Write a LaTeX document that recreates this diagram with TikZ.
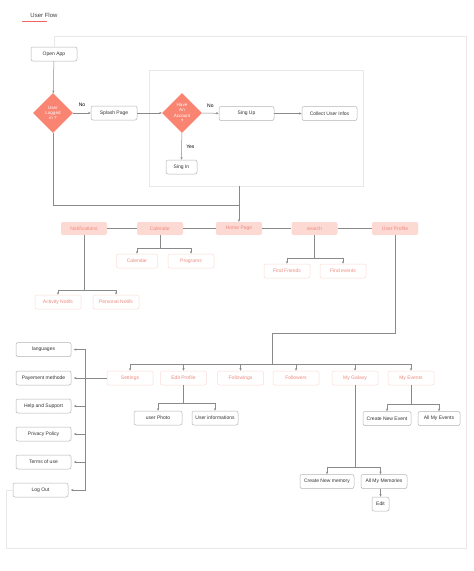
\documentclass[tikz,border=0pt]{standalone}
\usepackage{fontspec}
\setmainfont{Liberation Sans}
\usetikzlibrary{arrows.meta,shapes.geometric}

\definecolor{salmon}{HTML}{F98472}
\definecolor{pinkfill}{HTML}{FDD9D3}
\definecolor{pinktext}{HTML}{EE8A7E}
\definecolor{pinkline}{HTML}{FBDCD6}
\definecolor{boxline}{HTML}{B5B5B5}
\definecolor{wirecol}{HTML}{8A8A8A}
\definecolor{framegray}{HTML}{E8E8E8}
\definecolor{titlered}{HTML}{F06464}

\tikzset{
  plainbox/.style={draw=boxline, line width=0.5pt, rounded corners=2pt, fill=white,
    minimum height=14pt, minimum width=46pt, inner sep=1pt, text=black!80},
  pinkbox/.style={fill=pinkfill, rounded corners=2pt, minimum height=13pt,
    minimum width=46pt, inner sep=1pt, text=pinktext},
  pinkedge/.style={draw=pinkline, line width=0.5pt, fill=white, rounded corners=2pt,
    minimum height=14pt, minimum width=46pt, inner sep=1pt, text=pinktext},
  choice/.style={diamond, fill=salmon, text=white, aspect=1, minimum size=40pt,
    inner sep=0pt, align=center, font=\fontsize{4.5}{5.2}\selectfont},
  wire/.style={draw=wirecol, line width=0.5pt},
  arr/.style={wire, -{Stealth[length=2.6pt,width=2.2pt]}},
  framebox/.style={draw=framegray, line width=0.6pt},
}

\begin{document}
\begin{tikzpicture}[x=1pt, y=-1pt, font=\fontsize{5}{6}\selectfont]

  \useasboundingbox[fill=white] (0,0) rectangle (474,571);

  % Judul
  \node[text=black!75, font=\fontsize{6}{7}\selectfont] (title) at (44,15) {User Flow};
  \fill[fill=titlered] (22,20.7) rectangle (47,22.4);

  % --- Bagian atas: masuk aplikasi ---
  \node[plainbox] (open) at (54,54) {Open App};
  \node[choice] (logged) at (53,113) {User\\Logged\\in ?};
  \node[plainbox] (splash) at (114,113) {Splash Page};

  % kotak akun
  \draw[framebox] (149,70) rectangle (363,186);
  \coordinate (framebot) at (239,186);
  \node[choice] (account) at (182,113) {Have\\An\\Account\\?};
  \node[plainbox, minimum width=55pt] (singup) at (246.5,113.5) {Sing Up};
  \node[plainbox, minimum width=55pt] (collect) at (329.5,113.5) {Collect User Infos};
  \node[plainbox, minimum width=31pt] (singin) at (181.5,167) {Sing In};

  \draw[arr] (open) -- (logged);
  \draw[arr] (logged) -- node[above=2.5pt, text=black] {No} (splash);
  \draw[arr] (splash) -- (account);
  \draw[arr] (account) -- node[above=2.5pt, text=black] {No} (singup);
  \draw[arr] (singup) -- (collect);
  \draw[arr] (account) -- node[right=1pt, text=black] {Yes} (singin);

  % --- Menu utama ---
  \node[pinkbox] (notif) at (84,228.5) {Notifications};
  \node[pinkbox] (cal) at (160,228.5) {Calendar};
  \node[pinkbox] (home) at (239,228.5) {Home Page};
  \node[pinkbox] (search) at (314.5,228.5) {search};
  \node[pinkbox] (profile) at (395,228.5) {User Profile};

  \coordinate (join) at (239,205);
  \draw[wire] (logged) |- (join);
  \draw[arr] (framebot) -- (home);
  \draw[wire] (notif) -- (cal) -- (home) -- (search) -- (profile);

  % cabang Calendar, search, Notifications
  \node[pinkedge, minimum width=41pt] (calitem) at (137,261) {Calendar};
  \node[pinkedge] (prog) at (191,261) {Programs};
  \node[pinkedge] (friends) at (287,271) {Find Friends};
  \node[pinkedge] (events) at (343,271) {Find events};
  \node[pinkedge] (actnotif) at (58,302) {Activity Notifs};
  \node[pinkedge] (pernotif) at (116,302) {Personal Notifs};

  \coordinate (calfork) at (160,248);
  \coordinate (searchfork) at (314.5,258);
  \coordinate (notiffork) at (84,290);
  \draw[wire] (cal) -- (calfork);
  \draw[wire] (search) -- (searchfork);
  \draw[wire] (notif) -- (notiffork);
  \foreach \c in {calitem, prog} \draw[arr] (calfork) -| (\c);
  \foreach \c in {friends, events} \draw[arr] (searchfork) -| (\c);
  \foreach \c in {actnotif, pernotif} \draw[arr] (notiffork) -| (\c);

  % --- Profil pengguna ---
  \node[pinkedge] (settings) at (130,378) {Settings};
  \node[pinkedge] (edit) at (183.5,378) {Edit Profile};
  \node[pinkedge] (followings) at (240.5,378) {Followings};
  \node[pinkedge] (followers) at (296,378) {Followers};
  \node[pinkedge] (galaxy) at (355,378) {My Galaxy};
  \node[pinkedge] (myevents) at (411,378) {My Events};

  \coordinate (pbend) at (272,333);
  \coordinate (pfork) at (272,364);
  \draw[wire] (profile) |- (pbend) -- (pfork);
  \foreach \t in {settings, edit, followings, followers, galaxy, myevents}
    \draw[arr] (pfork) -| (\t);

  % pengaturan (kolom kiri)
  \node[plainbox, minimum width=55pt] (lang) at (43.5,349.5) {languages};
  \node[plainbox, minimum width=55pt] (pay) at (43.5,378) {Payement methode};
  \node[plainbox, minimum width=55pt] (help) at (43.5,406) {Help and Support};
  \node[plainbox, minimum width=55pt] (privacy) at (43.5,434) {Privacy Policy};
  \node[plainbox, minimum width=55pt] (terms) at (43.5,462) {Terms of use};
  \node[plainbox, minimum width=55pt] (logout) at (40.5,490) {Log Out};

  \coordinate (sfork) at (85.5,378);
  \draw[wire] (settings) -- (sfork);
  \foreach \s in {lang, pay, help, privacy, terms, logout}
    \draw[arr, shorten >=2.5pt] (sfork) |- (\s);

  % Edit Profile
  \node[plainbox, minimum width=48pt] (photo) at (158,418) {user Photo};
  \node[plainbox] (uinfo) at (215,418) {User informations};
  \coordinate (editfork) at (183.5,403);
  \draw[wire] (edit) -- (editfork);
  \foreach \e in {photo, uinfo} \draw[arr] (editfork) -| (\e);

  % My Events
  \node[plainbox, minimum width=48pt] (newevent) at (387,418.5) {Create New Event};
  \node[plainbox, minimum width=42pt] (allevents) at (439,418.5) {All My Events};
  \coordinate (eventfork) at (411,404);
  \draw[wire] (myevents) -- (eventfork);
  \foreach \e in {newevent, allevents} \draw[arr] (eventfork) -| (\e);

  % My Galaxy
  \node[plainbox, minimum width=54pt] (newmem) at (327,481.5) {Create New memory};
  \node[plainbox] (allmem) at (384,481.5) {All My Memories};
  \node[plainbox, minimum width=17pt] (editmem) at (380.5,504) {Edit};
  \coordinate (galaxyfork) at (355,467);
  \draw[wire] (galaxy) -- (galaxyfork);
  \draw[arr] (galaxyfork) -| (newmem);
  \draw[arr] (galaxyfork) -| (editmem.north |- allmem.north);
  \draw[arr] (editmem.north |- allmem.south) -- (editmem);

  % bingkai luar
  \draw[framebox] (logout.west) -- (6,490) -- (6,548) -- (466,548)
    -- (466,36) -- (54,36) -- (open.north);

\end{tikzpicture}
\end{document}
